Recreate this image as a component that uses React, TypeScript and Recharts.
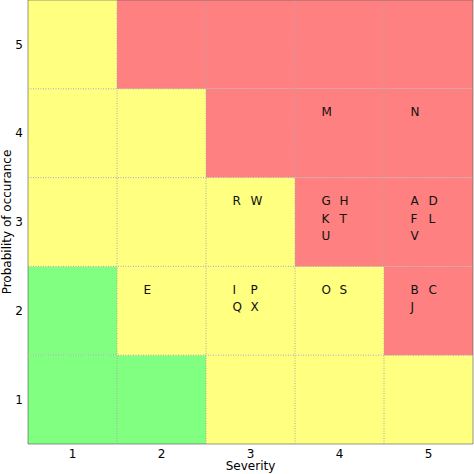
import {
  ReferenceArea,
  ReferenceLine,
  Scatter,
  ScatterChart,
  XAxis,
  YAxis,
} from "recharts";

// axis ticks (severity on x, probability on y)
const severityTicks = [1, 2, 3, 4, 5];
const probabilityTicks = [1, 2, 3, 4, 5];
const cellBounds = [1.5, 2.5, 3.5, 4.5];

// risk level per cell, one array per probability row (severity 1..5)
const levelsP1 = ["low", "low", "medium", "medium", "medium"];
const levelsP2 = ["low", "medium", "medium", "medium", "high"];
const levelsP3 = ["medium", "medium", "medium", "high", "high"];
const levelsP4 = ["medium", "medium", "high", "high", "high"];
const levelsP5 = ["medium", "high", "high", "high", "high"];

// the individual risks
const riskNames = ["A", "B", "C", "D", "E", "F", "G", "H", "I", "J", "K", "L", "M", "N", "O", "P", "Q", "R", "S", "T", "U", "V", "W", "X"];
const riskSeverity = [5, 5, 5, 5, 2, 5, 4, 4, 3, 5, 4, 5, 4, 5, 4, 3, 3, 3, 4, 4, 4, 5, 3, 3];
const riskProbability = [3, 2, 2, 3, 2, 3, 3, 3, 2, 2, 3, 3, 4, 4, 2, 2, 2, 3, 2, 3, 3, 3, 3, 2];

const LEVEL_COLORS: Record<string, string> = {
  low: "#80ff80",
  medium: "#ffff80",
  high: "#ff8080",
};

const FONT = "'DejaVu Sans', sans-serif";

const levelRows = [levelsP1, levelsP2, levelsP3, levelsP4, levelsP5];

type Cell = { severity: number; probability: number; names: string[] };

function buildCells(): Cell[] {
  const cells: Cell[] = [];
  riskNames.forEach((name, i) => {
    const s = riskSeverity[i];
    const p = riskProbability[i];
    let cell = cells.find((c) => c.severity === s && c.probability === p);
    if (!cell) {
      cell = { severity: s, probability: p, names: [] };
      cells.push(cell);
    }
    cell.names.push(name);
  });
  return cells;
}

function CellLabels(props: any) {
  const { cx, cy, payload } = props;
  if (cx == null || cy == null || !payload) return null;
  return (
    <g>
      {payload.names.map((name: string, i: number) => (
        <text
          key={name}
          x={cx - 18 + (i % 2) * 18}
          y={cy - 17 + Math.floor(i / 2) * 17.5}
          fontSize={12}
          fontFamily={FONT}
          fill="#111"
        >
          {name}
        </text>
      ))}
    </g>
  );
}

export default function App() {
  const cells = buildCells();

  return (
    <div style={{ position: "absolute", left: 0, top: 0, background: "#fff" }}>
      <ScatterChart
        width={474}
        height={474}
        margin={{ top: 0, right: 1, bottom: 0, left: 0 }}
      >
        <XAxis
          type="number"
          dataKey="severity"
          domain={[0.5, 5.5]}
          ticks={severityTicks}
          allowDataOverflow
          height={30}
          tickSize={0}
          tickMargin={5}
          axisLine={false}
          tickLine={false}
          tick={{ fill: "#000", fontSize: 12, fontFamily: FONT }}
          label={{
            value: "Severity",
            position: "insideBottom",
            offset: 4,
            fill: "#000",
            fontSize: 12,
            fontFamily: FONT,
          }}
        />
        <YAxis
          type="number"
          dataKey="probability"
          domain={[0.5, 5.5]}
          ticks={probabilityTicks}
          allowDataOverflow
          width={28}
          tickSize={0}
          tickMargin={5}
          axisLine={false}
          tickLine={false}
          tick={{ fill: "#000", fontSize: 12, fontFamily: FONT }}
          label={({ viewBox }: any) => {
            const x = viewBox.x + 11;
            const y = viewBox.y + viewBox.height / 2;
            return (
              <text
                x={x}
                y={y}
                transform={`rotate(-90, ${x}, ${y})`}
                textAnchor="middle"
                fontSize={12}
                fontFamily={FONT}
                fill="#000"
              >
                Probability of occurance
              </text>
            );
          }}
        />
        {levelRows.map((row, pi) =>
          row.map((level, si) => (
            <ReferenceArea
              key={`${pi}-${si}`}
              x1={severityTicks[si] - 0.5}
              x2={severityTicks[si] + 0.5}
              y1={probabilityTicks[pi] - 0.5}
              y2={probabilityTicks[pi] + 0.5}
              fill={LEVEL_COLORS[level]}
              fillOpacity={1}
              stroke="none"
              ifOverflow="visible"
            />
          )),
        )}
        {cellBounds.map((b) => (
          <ReferenceLine
            key={`v${b}`}
            x={b}
            stroke="#a8a8a8"
            strokeDasharray="1 1.5"
          />
        ))}
        {cellBounds.map((b) => (
          <ReferenceLine
            key={`h${b}`}
            y={b}
            stroke="#a8a8a8"
            strokeDasharray="1 1.5"
          />
        ))}
        <ReferenceArea
          x1={0.5}
          x2={5.5}
          y1={0.5}
          y2={5.5}
          fill="none"
          stroke="#555"
          strokeOpacity={0.6}
          ifOverflow="visible"
        />
        <Scatter
          data={cells}
          shape={CellLabels}
          isAnimationActive={false}
        />
      </ScatterChart>
    </div>
  );
}
